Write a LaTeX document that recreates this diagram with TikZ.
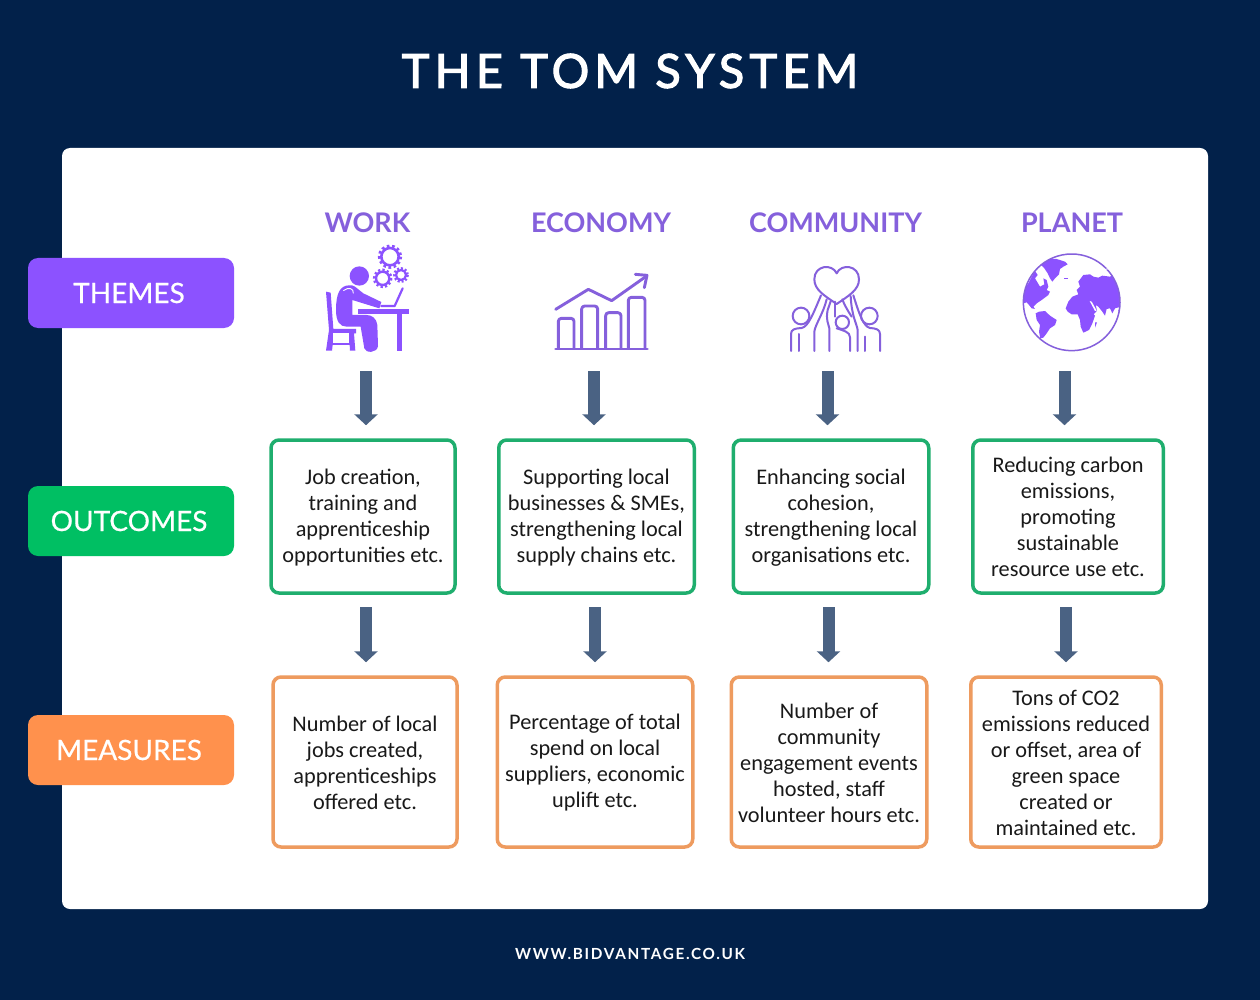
\documentclass[tikz,border=0pt]{standalone}
\usepackage{fontspec}
\usepackage{xcolor}
\usetikzlibrary{arrows.meta}
\setmainfont{Carlito}
\newfontfamily\headfont{Lato}
\newfontfamily\labelfont[FakeBold=0.5]{Lato}
\newfontfamily\titlefont[LetterSpace=11,FakeBold=2.5]{Lato}
\newfontfamily\footfont[LetterSpace=11]{Lato}
\newcommand{\topgap}{\rule{0pt}{17pt}}
\definecolor{navyBack}{HTML}{02214A}
\definecolor{purpleTheme}{HTML}{8C52FF}
\definecolor{purpleIcon}{HTML}{8560DC}
\definecolor{greenLabel}{HTML}{00BF63}
\definecolor{greenEdge}{HTML}{1FAE6E}
\definecolor{orangeLabel}{HTML}{FF914D}
\definecolor{orangeEdge}{HTML}{EE9B5F}
\definecolor{slateArrow}{HTML}{4A6283}
\tikzset{side-label/.style={rectangle,rounded corners=10pt,text=white,minimum width=206pt,minimum height=70pt,inner sep=0pt,font=\labelfont\fontsize{28}{28}\selectfont,execute at end node=\hspace*{4pt}}}
\tikzset{theme-head/.style={text=purpleIcon,inner sep=0pt,font=\headfont\bfseries\fontsize{27}{27}\selectfont}}
\tikzset{text-box/.style={draw,rectangle,rounded corners=8pt,line width=3.5pt,fill=white,align=center,inner sep=0pt,text=black!90,font=\fontsize{22.3}{26}\selectfont}}
\tikzset{outcome-box/.style={text-box,draw=greenEdge,minimum height=153pt}}
\tikzset{measure-box/.style={text-box,draw=orangeEdge,minimum height=170pt}}
\tikzset{flow-arrow/.style={-{Triangle[width=23pt,length=11pt]},line width=12pt,draw=slateArrow,shorten >=13pt}}
\tikzset{icon-line/.style={draw=purpleIcon,line width=2.9pt,line cap=round,line join=round}}
\tikzset{icon-thin/.style={draw=purpleIcon,line width=2pt,line cap=round,line join=round}}
\begin{document}
\begin{tikzpicture}[x=1pt,y=-1pt]
    \useasboundingbox (0,0) rectangle (1260,1000);
    \fill [navyBack] (0,0) rectangle (1260,1000);
    \fill [white,rounded corners=8pt] (62,148) rectangle (1208,909);

    \node [text=white,inner sep=0pt,font=\titlefont\fontsize{47}{47}\selectfont] (title) at (630,71) {THE TOM SYSTEM};
    \node [text=white,inner sep=0pt,font=\footfont\bfseries\fontsize{15.3}{15}\selectfont] (footer) at (630,954) {WWW.BIDVANTAGE.CO.UK};

    \node [side-label, fill=purpleTheme] (themes) at (131,293) {THEMES};
    \node [side-label, fill=greenLabel] (outcomes) at (131,521) {OUTCOMES};
    \node [side-label, fill=orangeLabel] (measures) at (131,750) {MEASURES};

    \node [theme-head] (work) at (367.5,222.5) {WORK};
    \node [theme-head] (economy) at (601,222.5) {ECONOMY};
    \node [theme-head] (community) at (835.5,222.5) {COMMUNITY};
    \node [theme-head] (planet) at (1072,222.5) {PLANET};

    \node [outcome-box, minimum width=184pt] (work-out) at (363,516.5) {\topgap Job creation,\\training and\\apprenticeship\\opportunities etc.};
    \node [outcome-box, minimum width=195.5pt] (economy-out) at (596.5,516.5) {\topgap Supporting local\\businesses \& SMEs,\\strengthening local\\supply chains etc.};
    \node [outcome-box, minimum width=195.5pt] (community-out) at (831,516.5) {\topgap Enhancing social\\cohesion,\\strengthening local\\organisations etc.};
    \node [outcome-box, minimum width=190.5pt] (planet-out) at (1068,516.5) {\topgap Reducing carbon\\emissions,\\promoting\\sustainable\\resource use etc.};

    \node [measure-box, minimum width=184pt] (work-mea) at (365,762) {\topgap Number of local\\jobs created,\\apprenticeships\\offered etc.};
    \node [measure-box, minimum width=195.5pt] (economy-mea) at (595,762) {\topgap Percentage of total\\spend on local\\suppliers, economic\\uplift etc.};
    \node [measure-box, minimum width=195.5pt] (community-mea) at (829,762) {\topgap Number of\\community\\engagement events\\hosted, staff\\volunteer hours etc.};
    \node [measure-box, minimum width=190.5pt] (planet-mea) at (1066,762) {\topgap Tons of CO2\\emissions reduced\\or offset, area of\\green space\\created or\\maintained etc.};

    \coordinate (work-icon) at (366,371);
    \coordinate (economy-icon) at (594,371);
    \coordinate (community-icon) at (827.5,371);
    \coordinate (planet-icon) at (1064.5,371);
    \coordinate (work-link) at (366,607);
    \coordinate (economy-link) at (595,607);
    \coordinate (community-link) at (828.5,607);
    \coordinate (planet-link) at (1066,607);

    \draw [flow-arrow] (work-icon) -- (work-icon |- work-out.north);
    \draw [flow-arrow] (economy-icon) -- (economy-icon |- economy-out.north);
    \draw [flow-arrow] (community-icon) -- (community-icon |- community-out.north);
    \draw [flow-arrow] (planet-icon) -- (planet-icon |- planet-out.north);
    \draw [flow-arrow] (work-link) -- (work-link |- work-mea.north);
    \draw [flow-arrow] (economy-link) -- (economy-link |- economy-mea.north);
    \draw [flow-arrow] (community-link) -- (community-link |- community-mea.north);
    \draw [flow-arrow] (planet-link) -- (planet-link |- planet-mea.north);

    % worker at his desk
    \begin{scope}[shift={(320,240)},scale=1/3]
        \fill [purpleTheme] (118,108) circle (29);
        \fill [purpleTheme] (18,155) -- (32,158) -- (40,267) -- (108,267) -- (108,280) -- (102,280) -- (106,332) -- (90,332) -- (89,315) -- (38,315) -- (36,332) -- (18,332) -- (27,270) -- cycle;
        \fill [white] (38,280) rectangle (88,308);
        \fill [purpleTheme] (88,136) .. controls (60,136) and (48,160) .. (48,210) .. controls (48,245) and (60,260) .. (80,260) -- (122,260) -- (133,325) .. controls (136,340) and (172,340) .. (174,318) -- (172,255) .. controls (170,235) and (155,225) .. (140,225) -- (97,225) -- (97,180) -- (178,205) -- (184,186) -- (130,160) -- (105,140) .. controls (100,136) and (95,136) .. (88,136) -- cycle;
        \draw [white,line width=0.9pt] (70,152) .. controls (85,140) and (102,145) .. (100,160);
        \fill [purpleTheme] (113,208) rectangle (266,222);
        \fill [purpleTheme] (232,222) rectangle (246,332);
        \draw [icon-line,draw=purpleTheme,line width=2.2pt] (248,145) -- (224,198) -- (184,198);
        \draw [draw=purpleTheme,line width=2.6pt] (210,50) circle (26);
        \draw [draw=purpleTheme,line width=3pt,dash pattern=on 2.6pt off 2.6pt] (210,50) circle (32);
        \draw [draw=purpleTheme,line width=2.4pt] (188,115) circle (20);
        \draw [draw=purpleTheme,line width=2.6pt,dash pattern=on 2.2pt off 2.2pt] (188,115) circle (25.5);
        \draw [draw=purpleTheme,line width=2.2pt] (243,105) circle (15);
        \draw [draw=purpleTheme,line width=2.4pt,dash pattern=on 2pt off 1.9pt] (243,105) circle (20);
    \end{scope}

    % rising bar chart
    \begin{scope}[shift={(300,230)},scale=1/3]
        \draw [icon-line] (767,238) -- (865,178) -- (935,212) -- (1037,140);
        \draw [icon-line] (1006,133) -- (1041,136) -- (1033,173);
        \draw [icon-line,rounded corners=3pt] (775,355) -- (775,265) -- (822,265) -- (822,355);
        \draw [icon-line,rounded corners=3pt] (845,355) -- (845,228) -- (893,228) -- (893,355);
        \draw [icon-line,rounded corners=3pt] (917,355) -- (917,248) -- (963,248) -- (963,355);
        \draw [icon-line,rounded corners=3pt] (985,355) -- (985,202) -- (1035,202) -- (1035,355);
        \draw [icon-line] (767,357) -- (1042,357);
    \end{scope}

    % raised hands under a heart
    \begin{scope}[shift={(785,260)},scale=1/3]
        \draw [icon-thin] (155,132) .. controls (120,108) and (88,90) .. (88,58) .. controls (88,15) and (142,10) .. (155,40) .. controls (168,10) and (222,15) .. (222,58) .. controls (222,90) and (190,108) .. (155,132) -- cycle;
        \draw [icon-thin] (48,168) circle (25);
        \draw [icon-thin] (253,168) circle (25);
        \draw [icon-thin] (172,187) circle (20);
        \draw [icon-thin] (18,273) -- (18,222) .. controls (18,208) and (30,205) .. (50,204) .. controls (70,200) and (85,160) .. (108,106);
        \draw [icon-thin] (42,273) -- (42,222);
        \draw [icon-thin] (88,273) -- (88,215) .. controls (90,195) and (115,160) .. (125,118);
        \draw [icon-thin] (133,273) -- (133,205) .. controls (130,190) and (122,180) .. (128,150) -- (137,124);
        \draw [icon-thin] (150,125) -- (150,170);
        \draw [icon-thin] (155,205) .. controls (175,212) and (195,215) .. (195,232) -- (195,273);
        \draw [icon-thin] (218,273) -- (218,210) .. controls (215,190) and (200,170) .. (197,108);
        \draw [icon-thin] (172,118) .. controls (178,135) and (190,155) .. (200,170);
        \draw [icon-thin] (240,273) -- (240,230);
        \draw [icon-thin] (285,273) -- (285,222) .. controls (285,208) and (272,205) .. (255,204) .. controls (235,200) and (222,160) .. (205,106);
    \end{scope}

    % globe
    \begin{scope}[shift={(1015,245)},scale=1/3]
        \begin{scope}
            \clip (170,172) circle (145);
            \fill [purpleTheme] (72,52) -- (85,45) -- (105,42) -- (125,42) -- (150,50) -- (158,58) -- (145,65) -- (135,72) -- (132,88) -- (120,100) -- (112,110) -- (105,100) -- (98,85) -- (88,70) -- (78,60) -- cycle;
            \fill [purpleTheme] (15,150) -- (40,115) -- (50,95) -- (60,78) -- (68,90) -- (60,100) -- (75,125) -- (88,118) -- (85,100) -- (95,105) -- (100,125) -- (95,135) -- (105,140) -- (100,150) -- (80,165) -- (65,175) -- (55,185) -- (60,192) -- (50,190) -- (42,180) -- (35,172) -- (15,178) -- cycle;
            \fill [purpleTheme] (62,205) -- (72,200) -- (90,198) -- (105,212) -- (125,225) -- (120,240) -- (105,250) -- (95,265) -- (85,278) -- (76,280) -- (72,260) -- (75,240) -- (65,225) -- cycle;
            \fill [purpleTheme] (152,190) -- (160,170) -- (172,155) -- (190,148) -- (185,135) -- (195,125) -- (190,110) -- (205,90) -- (225,88) -- (235,95) -- (250,98) -- (262,92) -- (285,95) -- (300,85) -- (330,115) -- (330,185) -- (318,185) -- (300,190) -- (292,205) -- (285,190) -- (275,192) -- (270,212) -- (262,200) -- (250,185) -- (242,180) -- (246,197) -- (236,208) -- (240,212) -- (232,235) -- (222,255) -- (205,263) -- (197,245) -- (195,225) -- (188,208) -- (170,208) -- (158,200) -- cycle;
            \fill [white] (224,168) -- (230,170) -- (245,197) -- (240,198) -- cycle;
            \fill [purpleTheme] (240,232) -- (246,232) -- (240,248) -- cycle;
            \fill [purpleTheme] (147,98) rectangle (160,103);
            \fill [purpleTheme] (310,195) -- (330,190) -- (330,240) -- (315,225) -- cycle;
        \end{scope}
        \draw [icon-line,line width=1.5pt] (170,172) circle (145);
        \draw [white,line width=0.8pt] (250,90) .. controls (260,75) and (275,70) .. (282,72);
    \end{scope}
\end{tikzpicture}
\end{document}
